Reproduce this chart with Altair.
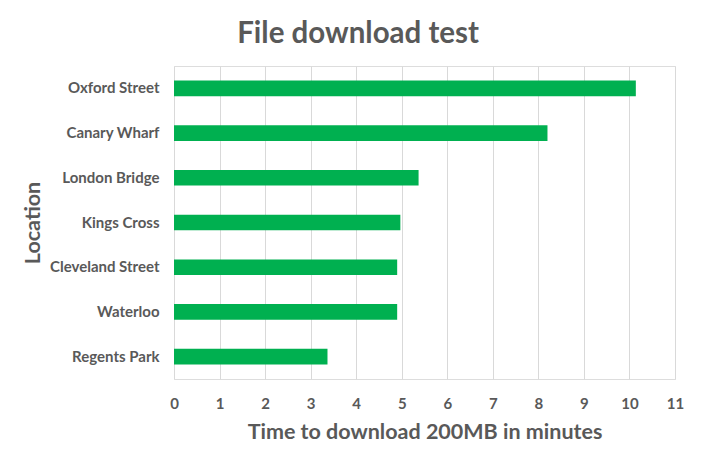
import altair as alt
import pandas as pd

locations = ["Oxford Street", "Canary Wharf", "London Bridge", "Kings Cross",
             "Cleveland Street", "Waterloo", "Regents Park"]
minutes = [10.14, 8.2, 5.37, 4.97, 4.9, 4.9, 3.37]
x_ticks = list(range(0, 12))

df = pd.DataFrame({"Location": locations, "Minutes": minutes})

GRAY = "#595959"
FONT = "Lato"

chart = alt.Chart(df).mark_bar(color="#00B050").encode(
    x=alt.X("Minutes:Q",
            scale=alt.Scale(domain=[0, 11], nice=False),
            axis=alt.Axis(values=x_ticks, title="Time to download 200MB in minutes",
                          grid=True, gridColor="#D9D9D9", domain=False, ticks=False,
                          labelFlush=False,
                          labelFont=FONT, labelFontSize=15, labelFontWeight="bold",
                          labelColor=GRAY, labelPadding=17,
                          titleFont=FONT, titleFontSize=21.5, titleFontWeight="bold",
                          titleColor=GRAY, titlePadding=10)),
    y=alt.Y("Location:N", sort=locations,
            scale=alt.Scale(paddingInner=0.65, paddingOuter=0.325),
            axis=alt.Axis(title="Location", grid=False, domain=False, ticks=False,
                          labelFont=FONT, labelFontSize=15, labelFontWeight="bold",
                          labelColor=GRAY, labelPadding=15,
                          titleFont=FONT, titleFontSize=21.5, titleFontWeight="bold",
                          titleColor=GRAY, titlePadding=5)),
).properties(
    width=501,
    height=313,
    title=alt.TitleParams("File download test", font=FONT, fontSize=29.5,
                          fontWeight="bold", color=GRAY, anchor="middle",
                          frame="bounds", offset=17, dx=5),
    autosize=alt.AutoSizeParams(type="none"),
    padding={"left": 166, "top": 58, "right": 33, "bottom": 77},
).configure_view(stroke=None).configure(background="white")

chart.save("out.html", embed_options={"renderer": "svg", "actions": False})
